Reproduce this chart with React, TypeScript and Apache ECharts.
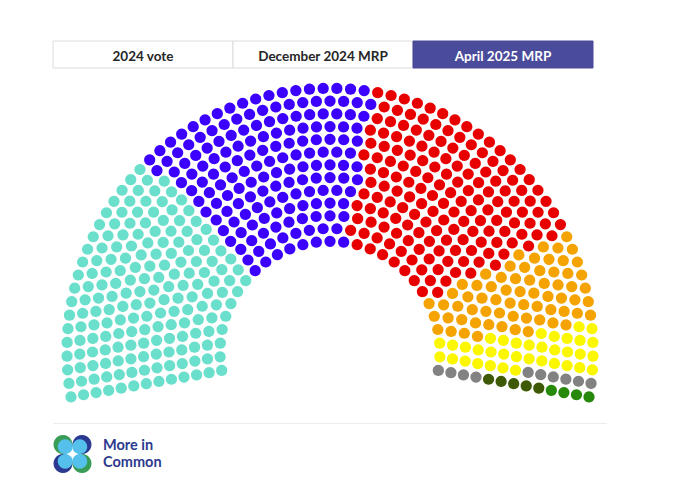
import React, { useEffect, useRef } from "react";
import * as echarts from "echarts";

// ---- Data ----
const parties = ["Reform UK", "Conservative", "Labour", "Liberal Democrat", "SNP", "Other", "Plaid Cymru", "Green"];
const seats = [180, 165, 165, 67, 36, 10, 5, 4];
const colors = ["#69dfcc", "#3b00fe", "#e80000", "#f4a300", "#fbf700", "#828282", "#3e5a06", "#26890c"];
const tabs = ["2024 vote", "December 2024 MRP", "April 2025 MRP"];
const activeTab = 2;
const logoLines = ["More in", "Common"];

// ---- Layout constants ----
const RINGS = 13;
const INNER_R = 110;
const OUTER_R = 263;
const START_ANGLE = 190;
const SPAN = 200;

function buildSeats() {
  const total = seats.reduce((a, b) => a + b, 0);
  const radii = Array.from({ length: RINGS }, (_, i) => INNER_R + ((OUTER_R - INNER_R) * i) / (RINGS - 1));
  const sumR = radii.reduce((a, b) => a + b, 0);
  const raw = radii.map((r) => (total * r) / sumR);
  const counts = raw.map((v) => Math.floor(v));
  const rem = total - counts.reduce((a, b) => a + b, 0);
  const order = raw.map((v, i) => ({ f: v - Math.floor(v), i })).sort((a, b) => b.f - a.f);
  for (let k = 0; k < rem; k++) counts[order[k].i] += 1;
  const pts: { r: number; a: number; ring: number }[] = [];
  radii.forEach((r, i) => {
    const n = counts[i];
    for (let k = 0; k < n; k++) {
      const a = START_ANGLE - (SPAN * k) / (n - 1);
      pts.push({ r, a, ring: i });
    }
  });
  pts.sort((p, q) => (q.a - p.a) || (p.ring - q.ring));
  let idx = 0;
  return seats.map((s) => {
    const arr: number[][] = [];
    for (let j = 0; j < s; j++) {
      const p = pts[idx++];
      arr.push([p.r, (p.a + 360) % 360]);
    }
    return arr;
  });
}

export default function App() {
  const ref = useRef<HTMLDivElement>(null);
  useEffect(() => {
    if (!ref.current) return;
    const chart = echarts.init(ref.current, undefined, { renderer: "svg" });
    const data = buildSeats();
    const tabX0 = 53;
    const tabW = 180;
    const tabY = 41;
    const tabH = 27;
    const graphic: any[] = [];
    tabs.forEach((t, i) => {
      const active = i === activeTab;
      graphic.push({
        type: "rect",
        shape: { x: tabX0 + i * tabW, y: tabY, width: tabW, height: tabH },
        style: { fill: active ? "#4b4b9b" : "#ffffff", stroke: active ? "#4b4b9b" : "#dcdcdc", lineWidth: 1 },
        z: 1,
      });
      graphic.push({
        type: "text",
        x: tabX0 + i * tabW + tabW / 2,
        y: tabY + tabH / 2 + 1,
        style: {
          text: t,
          align: "center",
          verticalAlign: "middle",
          fill: active ? "#ffffff" : "#262626",
          font: "bold 13.5px Lato, 'Noto Sans', sans-serif",
        },
        z: 2,
      });
    });
    graphic.push({
      type: "line",
      shape: { x1: 53, y1: 423.5, x2: 607, y2: 423.5 },
      style: { stroke: "#ececec", lineWidth: 1 },
    });
    // logo
    const lc = [
      { cx: 63, cy: 444.5, c: "#3a9d57", dx: 1, dy: 1 },
      { cx: 82, cy: 444.5, c: "#2b3990", dx: -1, dy: 1 },
      { cx: 63, cy: 463.5, c: "#2b3990", dx: 1, dy: -1 },
      { cx: 82, cy: 463.5, c: "#3a9d57", dx: -1, dy: -1 },
    ];
    lc.forEach((o) => {
      graphic.push({ type: "circle", shape: { cx: o.cx, cy: o.cy, r: 9.5 }, style: { fill: o.c } });
    });
    lc.forEach((o) => {
      graphic.push({
        type: "circle",
        shape: { cx: o.cx + o.dx * 2.2, cy: o.cy + o.dy * 2.2, r: 7.4 },
        style: { fill: "#55c0ec" },
      });
    });
    logoLines.forEach((l, i) => {
      graphic.push({
        type: "text",
        x: 103,
        y: 437 + i * 17,
        style: {
          text: l,
          fill: "#2d3a8e",
          font: "bold 14.5px Lato, 'Noto Sans', sans-serif",
          verticalAlign: "top",
        },
      });
    });

    chart.setOption({
      animation: false,
      backgroundColor: "#ffffff",
      polar: { center: [330, 351.3], radius: OUTER_R },
      radiusAxis: { type: "value", min: 0, max: OUTER_R, show: false },
      angleAxis: { type: "value", min: 0, max: 360, startAngle: 0, clockwise: false, show: false },
      graphic,
      series: parties.map((p, i) => ({
        name: p,
        type: "scatter",
        coordinateSystem: "polar",
        symbol: "circle",
        symbolSize: 11.2,
        itemStyle: { color: colors[i], opacity: 1 },
        data: data[i],
      })),
    });
    return () => chart.dispose();
  }, []);
  return <div ref={ref} style={{ position: "fixed", left: 0, top: 0, width: 680, height: 492 }} />;
}
